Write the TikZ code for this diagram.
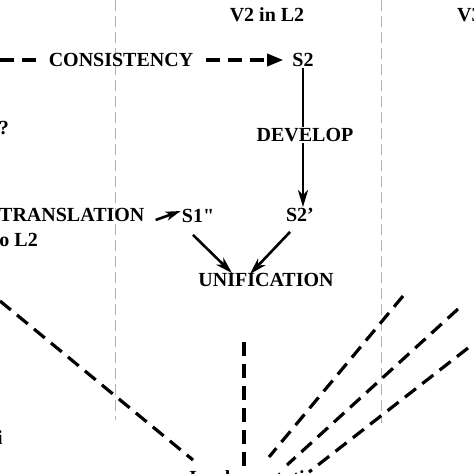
\documentclass[tikz,border=0pt]{standalone}
\usepackage{fontspec}
\setmainfont{Liberation Serif}
\usetikzlibrary{arrows.meta}
\begin{document}
\begin{tikzpicture}[x=1pt,y=-1pt,
  lbl/.style={font=\bfseries\fontsize{20}{22}\selectfont, inner sep=1pt},
  grayline/.style={draw=black!30, line width=1pt, dash pattern=on 11pt off 5pt},
  bigdash/.style={line width=3.2pt, dash pattern=on 14pt off 8pt},
  solidline/.style={line width=2.6pt},
  solidarrow/.style={solidline, -{Stealth[length=17pt,width=10pt,inset=5pt]}},
  dasharrow/.style={line width=3.2pt, dash pattern=on 14pt off 8pt, -{Triangle[length=16pt,width=12pt]}}]
\useasboundingbox (0,0) rectangle (474,474);
\clip (0,0) rectangle (474,474);
% column separators
\coordinate (g1t) at (115,0); \coordinate (g1b) at (115,420);
\coordinate (g2t) at (381,0); \coordinate (g2b) at (381,423);
\draw[grayline] (g1t) -- (g1b);
\draw[grayline] (g2t) -- (g2b);
% labels
\node[lbl] (v2) at (267,15) {V2 in L2};
\node[lbl, anchor=west] (v3) at (456,15) {V3};
\node[lbl, anchor=east] (q) at (10,128) {?};
\node[lbl] (cons) at (121,60) {CONSISTENCY};
\node[lbl] (s2) at (303,60) {S2};
\node[lbl] (dev) at (305,135) {DEVELOP};
\node[lbl] (s2p) at (300,215) {S2'};
\node[lbl, anchor=west] (trans) at (-2,215) {TRANSLATION};
\node[lbl, anchor=east] (tol2) at (39,240) {to L2};
\node[lbl] (s1pp) at (198,216) {S1\textquotedbl};
\node[lbl] (unif) at (266,280) {UNIFICATION};
\node[lbl, anchor=west] (iend) at (-4,438) {i};
\node[lbl, anchor=north west] (impl) at (188,469) {Implementation};
% connectors
\coordinate (cl) at (0,60);
\draw[bigdash, shorten >=5pt] (cl) -- (cons.west);
\draw[dasharrow] (cons.east) ++(12,0) -- ([xshift=-8pt]s2.west);
\draw[solidline] (s2.south) -- (s2.south |- dev.north);
\draw[solidarrow] (s2.south |- dev.south) -- (s2.south |- s2p.north);
\draw[solidline, -{Stealth[length=15pt,width=9pt,inset=4pt]}] (trans.east) ++(10,5) -- ([yshift=5pt]s1pp.west);
\draw[solidarrow] (s1pp.south) ++(-5,11) -- ([xshift=-34pt,yshift=-1pt]unif.north);
\draw[solidarrow] (s2p.south) ++(-10,9) -- ([xshift=-16pt,yshift=-2pt]unif.north);
% dashed lines toward Implementation
\coordinate (la) at (0,301); \coordinate (lb) at (193,460);
\coordinate (va) at (244,342); \coordinate (vb) at (244,467);
\coordinate (ra1) at (403,296); \coordinate (rb1) at (269,457);
\coordinate (ra2) at (458,309); \coordinate (rb2) at (287,465);
\coordinate (ra3) at (468,348); \coordinate (rb3) at (309,472);
\draw[bigdash] (la) -- (lb);
\draw[bigdash] (va) -- (vb);
\draw[bigdash] (ra1) -- (rb1);
\draw[bigdash] (ra2) -- (rb2);
\draw[bigdash] (ra3) -- (rb3);
\end{tikzpicture}
\end{document}
